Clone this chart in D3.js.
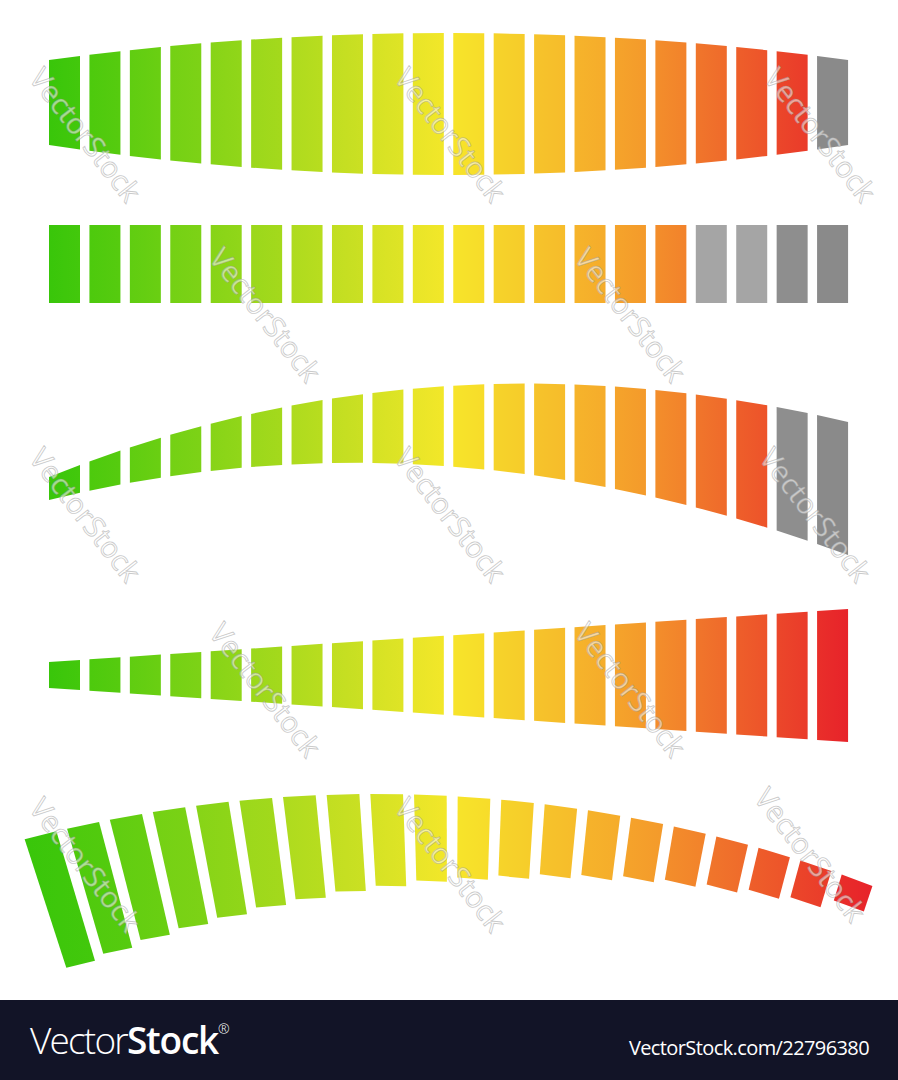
<!DOCTYPE html>
<html><head><meta charset="utf-8">
<script src="https://cdn.jsdelivr.net/npm/d3@7"></script>
<style>body{margin:0;background:#fff}svg{display:block}</style>
</head><body>
<svg id="c" width="898" height="1080"></svg>
<script>
// ---- data ----
const segments = d3.range(20);                   // 20 level steps per gauge
const litCount = [19, 16, 18, 20, 20];           // coloured steps per gauge (rest grey)
const greyShades = ["#a5a5a5", "#a5a5a5", "#8e8e8e", "#8a8a8a"];
const colorStops = [0, 9.5, 14, 19];
const colorValues = ["#3ec70b", "#f7e82a", "#f5a02b", "#e8292a"];
// gauge 1: top/bottom edge (ends, centre)
const g1Top = [60, 33, 60], g1Bot = [145, 175, 145];
// gauge 2: flat
const g2Top = [225, 225], g2Bot = [303, 303];
// gauge 3: wave edges (x, y)
const g3TopPts = [[49,477],[300,404],[560,384],[848,422]];
const g3BotPts = [[49,500],[300,464],[630,492],[848,555]];
// gauge 4: wedge
const g4Top = [662, 609], g4Bot = [688, 742];
// gauge 5: arc step thickness
const g5Thick = [135,130,124,119,114,108,103,97,92,86,81,76,70,65,59,54,49,43,38,27];

const svg = d3.select("#c");
const defs = svg.append("defs");
const x = d3.scaleLinear().domain([0, 20]).range([49, 848 + 9.5]);
const segW = 31;
const color = d3.scaleLinear().domain(colorStops).range(colorValues);

function fill(g, i) {
  if (i >= litCount[g]) return greyShades[Math.min(3, Math.max(0, i - litCount[g] + (4 - (20 - litCount[g]))))];
  const id = `gr${g}_${i}`;
  const lg = defs.append("linearGradient").attr("id", id);
  lg.append("stop").attr("offset", "0%").attr("stop-color", color(i - 0.25));
  lg.append("stop").attr("offset", "100%").attr("stop-color", color(i + 0.25));
  return `url(#${id})`;
}
const quad = (p) => { const u = d3.scaleLinear().domain([49, 848]).range([-1, 1]);
  return xx => { const t = u(xx); return p[1] + (p[0] - p[1]) * t * t; }; };
const lin = (p) => d3.scaleLinear().domain([49, 848]).range(p);
const lagr = (pts) => xx => pts.reduce((s, pi, i) =>
  s + pi[1] * pts.reduce((m, pj, j) => j === i ? m : m * (xx - pj[0]) / (pi[0] - pj[0]), 1), 0);

function vertGauge(g, topF, botF) {
  svg.append("g").selectAll("path").data(segments).join("path")
    .attr("d", i => { const a = x(i), b = a + segW;
      return `M${a},${topF(a)}L${b},${topF(b)}L${b},${botF(b)}L${a},${botF(a)}Z`; })
    .attr("fill", i => fill(g, i));
}
vertGauge(0, quad(g1Top), quad(g1Bot));
vertGauge(1, lin(g2Top), lin(g2Bot));
vertGauge(2, lagr(g3TopPts), lagr(g3BotPts));
vertGauge(3, lin(g4Top), lin(g4Bot));

// gauge 5: arc
const cx = 376, cy = 2180, R = 1386, fx = 450, fy = 2150;
const ang = d3.scaleLinear().domain([0, 19]).range([-0.2445, 0.3545]);
const half = 0.0118;
const pt = (r, t) => [cx + r * Math.sin(t), cy - r * Math.cos(t)];
const toward = (p, d) => { const dx = fx - p[0], dy = fy - p[1], L = Math.hypot(dx, dy);
  return [p[0] + dx / L * d, p[1] + dy / L * d]; };
svg.append("g").selectAll("path").data(segments).join("path")
  .attr("d", i => { const t = ang(i);
    const a = pt(R, t - half), b = pt(R, t + half);
    const p = [a, b, toward(b, g5Thick[i]), toward(a, g5Thick[i])];
    return "M" + p.map(q => q.join(",")).join("L") + "Z"; })
  .attr("fill", i => fill(4, i));

// watermarks
const wm = [[85,135],[450,135],[820,135],[265,315],[630,315],[85,515],[450,515],[815,515],
            [265,690],[630,690],[85,865],[450,865],[810,855]];
svg.append("g").selectAll("text").data(wm).join("text")
  .attr("transform", d => `translate(${d[0]},${d[1]}) rotate(52)`)
  .attr("text-anchor", "middle").attr("dy", "0.35em")
  .attr("font-family", "Open Sans, sans-serif").attr("font-size", 29)
  .attr("fill", "rgba(255,255,255,0.55)").attr("stroke", "rgba(150,150,150,0.5)").attr("stroke-width", 0.9)
  .text("VectorStock");

// banner
svg.append("rect").attr("x", 0).attr("y", 1000).attr("width", 898).attr("height", 80).attr("fill", "#121427");
const t1 = svg.append("text").attr("x", 30).attr("y", 1054).attr("fill", "#fff")
  .attr("font-family", "Open Sans, sans-serif").attr("font-size", 37);
t1.append("tspan").attr("font-weight", 300).attr("letter-spacing", -1.8).text("Vector");
t1.append("tspan").attr("font-weight", 600).attr("letter-spacing", -1.2).text("Stock");
t1.append("tspan").attr("font-size", 14).attr("dy", -20).attr("font-weight", 300).text("®");
svg.append("text").attr("x", 869).attr("y", 1055).attr("text-anchor", "end").attr("fill", "#fff")
  .attr("font-family", "Open Sans, sans-serif").attr("font-size", 20).attr("letter-spacing", -0.6)
  .text("VectorStock.com/22796380");
</script>
</body></html>
